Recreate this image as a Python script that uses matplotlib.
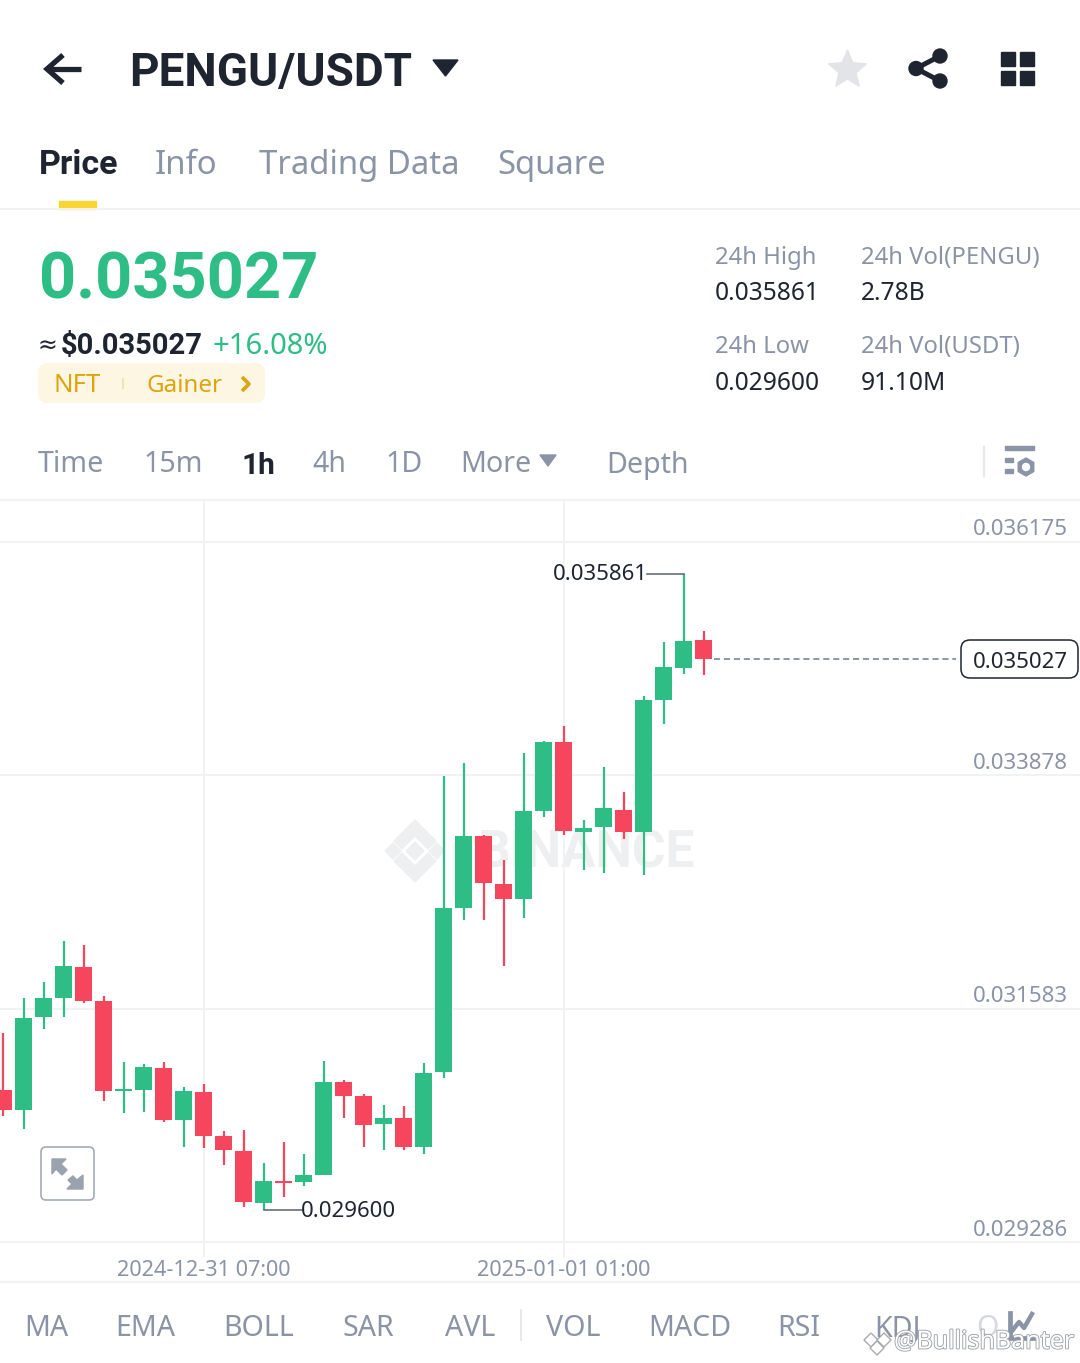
import matplotlib
matplotlib.use("Agg")
import matplotlib.pyplot as plt
import matplotlib.patheffects as pe
from matplotlib.patches import Circle, FancyBboxPatch, Polygon, Rectangle
import numpy as np

# --- chart data ---
opens = [0.030782, 0.030585, 0.031500, 0.031687, 0.031992, 0.031658, 0.030772, 0.030782, 0.030998,
         0.030487, 0.030762, 0.030329, 0.030182, 0.029670, 0.029886, 0.029877, 0.029945, 0.030861,
         0.030723, 0.030447, 0.030506, 0.030221, 0.030959, 0.032573, 0.033282, 0.032809, 0.032662,
         0.033528, 0.034207, 0.033321, 0.033370, 0.033538, 0.033321, 0.034620, 0.034935, 0.035211]
closes = [0.030585, 0.031491, 0.031687, 0.032002, 0.031658, 0.030772, 0.030792, 0.031008, 0.030487,
          0.030772, 0.030329, 0.030191, 0.029680, 0.029886, 0.029867, 0.029945, 0.030861, 0.030723,
          0.030437, 0.030506, 0.030221, 0.030949, 0.032573, 0.033282, 0.032819, 0.032662, 0.033528,
          0.034207, 0.033331, 0.033360, 0.033557, 0.033321, 0.034620, 0.034945, 0.035201, 0.035027]
highs = [0.031343, 0.031687, 0.031845, 0.032248, 0.032209, 0.031707, 0.031058, 0.031038, 0.031058,
         0.030811, 0.030841, 0.030378, 0.030388, 0.030064, 0.030270, 0.030152, 0.031067, 0.030880,
         0.030743, 0.030634, 0.030624, 0.031048, 0.033872, 0.034000, 0.033292, 0.033045, 0.034098,
         0.034217, 0.034364, 0.033439, 0.033961, 0.033715, 0.034659, 0.035191, 0.035861, 0.035299]
lows = [0.030526, 0.030398, 0.031382, 0.031500, 0.031638, 0.030674, 0.030556, 0.030565, 0.030467,
        0.030221, 0.030211, 0.030044, 0.029630, 0.029600, 0.029729, 0.029837, 0.029945, 0.030506,
        0.030221, 0.030191, 0.030191, 0.030152, 0.030900, 0.032455, 0.032455, 0.032002, 0.032475,
        0.033469, 0.033292, 0.032947, 0.032918, 0.033252, 0.032898, 0.034384, 0.034876, 0.034866]
price_ticks = [0.036175, 0.033878, 0.031583, 0.029286]
date_ticks = [10, 28]
date_labels = ["2024-12-31 07:00", "2025-01-01 01:00"]
last_price = 0.035027
day_high = 0.035861
day_low = 0.029600

tabs = ["Price", "Info", "Trading Data", "Square"]
intervals = ["Time", "15m", "1h", "4h", "1D", "More", "Depth"]
indicators = ["MA", "EMA", "BOLL", "SAR", "AVL", "VOL", "MACD", "RSI", "KDJ"]

GREEN = "#2EBD85"
RED = "#F6465D"
DARK = "#1E2531"
GRAY = "#8A94A6"
LINE = "#F1F2F4"
GOLD = "#DDA40E"
FONT = "Noto Sans"
BOLD_FONT = "Roboto"

W, H = 1080, 1363
plt.rcParams["font.family"] = [FONT, "DejaVu Sans"]
fig = plt.figure(figsize=(W / 100, H / 100), dpi=100, facecolor="white")

# full-figure axes in pixels for the app chrome around the chart
ui = fig.add_axes([0, 0, 1, 1], zorder=1)
ui.set_xlim(0, W)
ui.set_ylim(H, 0)
ui.axis("off")


def label(x, y, s, size, color=DARK, bold=False, ha="left"):
    # y is the visual middle of the text, the font's descender pulls it up a bit
    if bold:
        return ui.text(x, y + 2, s, fontsize=size, color=color, fontweight="bold", family=BOLD_FONT, ha=ha, va="center")
    return ui.text(x, y + 3, s, fontsize=size, color=color, ha=ha, va="center")


def stroke(xs, ys, color=DARK, lw=3.6, **kw):
    ui.plot(xs, ys, color=color, lw=lw, solid_capstyle="butt", **kw)


# header
stroke([47, 81], [69, 69], lw=3.8)
stroke([63, 47, 63], [55, 69, 83], lw=3.8, solid_joinstyle="miter")
label(129, 71, "PENGU/USDT", 33, bold=True)
ui.add_patch(Polygon([(433, 60), (458, 60), (445.5, 76)], color=DARK))
star_a = np.deg2rad(np.arange(10) * 36 - 90)
star_r = np.where(np.arange(10) % 2 == 0, 20, 9)
ui.add_patch(Polygon(np.c_[847.5 + star_r * np.cos(star_a), 70 + star_r * np.sin(star_a)], color="#E2E4E8"))
stroke([940, 916, 940], [56, 68.5, 81], lw=3.6)
for cx, cy in [(940, 56), (916, 68.5), (940, 81)]:
    ui.add_patch(Circle((cx, cy), 7, color=DARK))
for gx, gy in [(1001, 52), (1020, 52), (1001, 71), (1020, 71)]:
    ui.add_patch(Rectangle((gx, gy), 14, 14, color=DARK))

# tabs
for name, x in zip(tabs, [39, 155, 259, 497]):
    if name == "Price":
        label(x, 163, name, 24.5, DARK, bold=True)
    else:
        label(x, 163, name, 23.7, GRAY)
ui.add_patch(Rectangle((59, 201), 37, 7.5, color="#FCD535"))
ui.plot([0, W], [209, 209], color=LINE, lw=1.4)

# price block
label(39, 279, "0.035027", 46.7, GREEN, bold=True)
label(38, 344, "≈", 17, DARK)
label(61, 344, "$0.035027", 21, DARK, bold=True)
label(213, 344, "+16.08%", 21, GREEN)
ui.add_patch(FancyBboxPatch((38, 363), 227, 40, boxstyle="round,pad=0,rounding_size=10", fc="#FDF6E3", ec="none"))
label(53, 383, "NFT", 18.5, GOLD)
ui.plot([123, 123], [379, 388], color="#F2E3B0", lw=1.4)
label(147, 383, "Gainer", 17.4, GOLD)
stroke([242, 249, 242], [377, 384, 391], color=GOLD, lw=2.6)

# 24h stats
stats = [(715, 255, "24h High", 290, "0.035861"), (861, 255, "24h Vol(PENGU)", 290, "2.78B"),
         (715, 344, "24h Low", 380, "0.029600"), (861, 344, "24h Vol(USDT)", 380, "91.10M")]
for x, y1, head, y2, val in stats:
    label(x, y1, head, 17.2, GRAY)
    label(x, y2, val, 17.7, DARK)

# interval row
for name, x in zip(intervals, [38, 143, 241, 312, 385, 460, 606]):
    if name == "1h":
        label(x, 464, name, 21.5, DARK, bold=True)
    else:
        label(x, 462, name, 20.6, GRAY)
ui.add_patch(Polygon([(540, 455), (556, 455), (548, 466)], color=GRAY))
ui.plot([984, 984], [447, 476], color="#E6E8EA", lw=1.6)
for bx, by, bw in [(1005, 446, 29), (1005, 458, 8), (1005, 469, 8)]:
    ui.add_patch(Rectangle((bx, by), bw, 4, color=GRAY))
hex_a = np.deg2rad(np.arange(6) * 60 + 90)
ui.add_patch(Polygon(np.c_[1026 + 9 * np.cos(hex_a), 467 + 9 * np.sin(hex_a)], color=GRAY))
ui.add_patch(Circle((1026, 467), 3.5, color="white"))
ui.plot([0, W], [500, 500], color=LINE, lw=1.6)

# faint watermark behind the candles
MARK = "#EDEFF0"
for pts in [[(415, 820), (436, 841), (428, 849), (415, 836), (402, 849), (394, 841)],
            [(415, 882), (436, 861), (428, 853), (415, 866), (402, 853), (394, 861)],
            [(415, 842), (424, 851), (415, 860), (406, 851)],
            [(393, 843), (401, 851), (393, 859), (385, 851)],
            [(437, 843), (445, 851), (437, 859), (429, 851)]]:
    ui.add_patch(Polygon(pts, color=MARK, zorder=0))
ui.text(695, 853, "BINANCE", fontsize=37, color=MARK, fontweight="bold", ha="right", va="center", zorder=0,
        family=BOLD_FONT)

# chart axes, scaled so the price ticks land on their gridlines
chart = fig.add_axes([0, (H - 1282) / H, 1, 782 / H], zorder=2)
chart.patch.set_alpha(0)
per_px = (price_ticks[0] - price_ticks[-1]) / 700
chart.set_ylim(price_ticks[-1] - 40 * per_px, price_ticks[0] + 42 * per_px)
chart.set_xlim(-3.5 / 20, (W - 3.5) / 20)
for side in chart.spines.values():
    side.set_visible(False)

chart.set_yticks(price_ticks)
chart.set_yticklabels([])
chart.set_xticks(date_ticks)
chart.set_xticklabels(date_labels, fontsize=15.6, color=GRAY)
chart.tick_params(axis="both", length=0)
chart.tick_params(axis="x", pad=-16)
chart.grid(True, color=LINE, lw=1.4)
chart.set_axisbelow(True)
for t in chart.get_xticklabels():
    t.set_bbox(dict(fc="white", ec="none", pad=2))
for p in price_ticks:
    chart.annotate(f"{p:.6f}", xy=(1, p), xycoords=("axes fraction", "data"), xytext=(-12, 12),
                   textcoords="offset pixels", ha="right", va="center", fontsize=16, color=GRAY)

idx = np.arange(len(opens))
colors = [GREEN if c >= o else RED for o, c in zip(opens, closes)]
chart.vlines(idx, lows, highs, colors=colors, lw=1.6)
body_low = np.minimum(opens, closes)
body_high = np.maximum(opens, closes)
chart.bar(idx, body_high - body_low, bottom=body_low, width=0.87, color=colors)

# high / low callouts
i_high = highs.index(day_high)
chart.plot([i_high - 1.85, i_high], [day_high, day_high], color="#5A6270", lw=1.1)
chart.annotate(f"{day_high:.6f}", xy=(i_high - 1.9, day_high), xytext=(2, -1), textcoords="offset pixels", ha="right",
               va="center", fontsize=16, color=DARK)
i_low = lows.index(day_low)
chart.plot([i_low, i_low + 1.9], [day_low, day_low], color="#5A6270", lw=1.1)
chart.annotate(f"{day_low:.6f}", xy=(i_low + 1.9, day_low), xytext=(-1, -1), textcoords="offset pixels", ha="left",
               va="center", fontsize=16, color=DARK)

# last price line and pill
chart.plot([idx[-1] + 0.5, 47.6], [last_price, last_price], color="#707A8A", lw=1.1, ls=(0, (4, 2.5)))
ui2 = fig.add_axes([0, 0, 1, 1], zorder=3)
ui2.set_xlim(0, W)
ui2.set_ylim(H, 0)
ui2.axis("off")
ui2.add_patch(FancyBboxPatch((961, 640), 117, 38, boxstyle="round,pad=0,rounding_size=9", fc="white", ec=DARK, lw=1.1))
ui2.text(1020, 662, f"{last_price:.6f}", fontsize=16, color=DARK, ha="center", va="center")

# expand button
ui2.add_patch(FancyBboxPatch((41, 1147), 53, 53, boxstyle="round,pad=0,rounding_size=5", fc="white", ec="#A4ABB6", lw=1.2))
ui2.add_patch(Polygon([(52, 1159), (66, 1159), (61, 1164), (67, 1170), (62, 1175), (56, 1169), (52, 1174)], color="#9AA2AE"))
ui2.add_patch(Polygon([(83, 1189), (67, 1189), (72, 1184), (68, 1180), (73, 1176), (77, 1180), (83, 1175)], color="#9AA2AE"))

# bottom indicator row
ui2.plot([0, W], [1282, 1282], color=LINE, lw=1.6)
for name, x in zip(indicators, [24, 115, 223, 342, 445, 546, 648, 777, 874]):
    ui2.text(x, 1329, name, fontsize=20.6, color=GRAY, ha="left", va="center")
ui2.plot([521, 521], [1310, 1340], color="#E6E8EA", lw=1.4)
ui2.text(976, 1329, "O", fontsize=20.6, color="#D5D8DD", ha="left", va="center")
ui2.plot([1010, 1010, 1033], [1313, 1338, 1338], color=GRAY, lw=3.4, solid_joinstyle="miter")
ui2.plot([1012, 1019, 1024, 1032], [1331, 1322, 1328, 1314], color=GRAY, lw=3.2)

# hollow handle stamped over the corner
outline = [pe.Stroke(linewidth=1.3, foreground="#9FA3A8"), pe.Normal()]
ui2.text(894, 1342, "@BullishBanter", fontsize=18, color="white", ha="left", va="center", path_effects=outline)
for cx, cy in [(871, 1340), (884, 1340), (877, 1348)]:
    ui2.add_patch(Polygon([(cx, cy - 7), (cx + 7, cy), (cx, cy + 7), (cx - 7, cy)], fc="white", ec="#A8ABB0", lw=1))

fig.savefig("out.png", dpi=100)
